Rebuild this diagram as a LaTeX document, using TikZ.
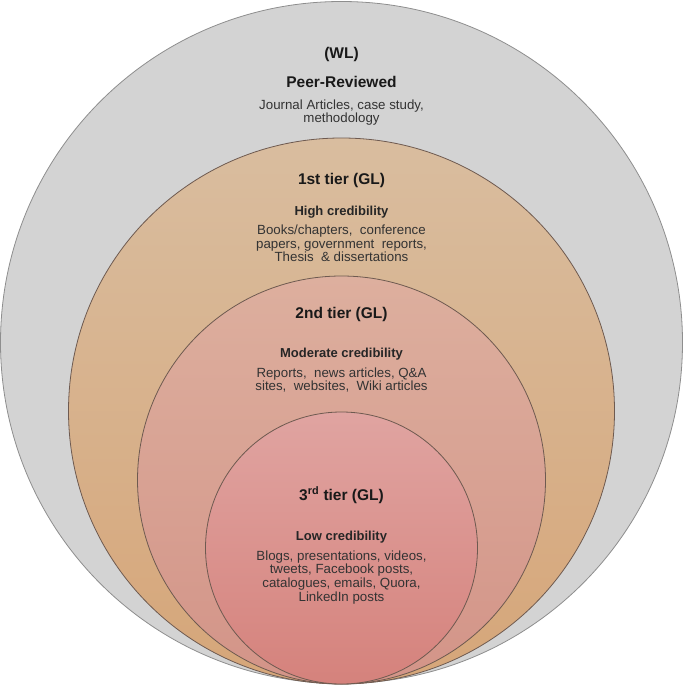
\documentclass[tikz,border=0pt]{standalone}
\usepackage{fontspec}
\setmainfont{Liberation Sans}
\definecolor{greyfill}{HTML}{D3D3D3}
\definecolor{greyline}{HTML}{8E8E8E}
\definecolor{tanTop}{HTML}{D9BD9F}
\definecolor{tanBot}{HTML}{D6A679}
\definecolor{pinkTop}{HTML}{DDAF9E}
\definecolor{pinkBot}{HTML}{D39488}
\definecolor{roseTop}{HTML}{E0A4A1}
\definecolor{roseBot}{HTML}{D5827C}
\definecolor{ringline}{HTML}{6E5A50}
\definecolor{bodytext}{HTML}{333333}
\tikzset{
  ring/.style={line width=0.8pt, draw=ringline},
  headtxt/.style={anchor=base, inner sep=0pt, font=\fontsize{15.5}{17}\selectfont\bfseries, text=black!90},
  subtxt/.style={anchor=base, inner sep=0pt, font=\fontsize{13}{14}\selectfont\bfseries, text=black!85},
  bodytxt/.style={anchor=base, inner sep=0pt, font=\fontsize{13.3}{14}\selectfont, text=bodytext}
}
\begin{document}
\begin{tikzpicture}[x=1pt,y=-1pt]
\useasboundingbox (0,0) rectangle (683,685);
% circles
\draw[line width=0.8pt, draw=greyline, fill=greyfill] (341.5,342.5) circle (341);
\draw[ring, top color=tanTop, bottom color=tanBot] (341.5,411) circle (273);
\draw[ring, top color=pinkTop, bottom color=pinkBot] (341.5,480) circle (204);
\draw[ring, top color=roseTop, bottom color=roseBot] (341.5,548) circle (136);
% WL
\node[headtxt] (wl) at (341.5,59) {(WL)};
\node[headtxt] (peer) at (341.5,87) {Peer-Reviewed};
\node[bodytxt] (wl1) at (341.5,109.3) {Journal Articles, case study,};
\node[bodytxt] (wl2) at (341.5,122.7) {methodology};
% tier 1
\node[headtxt] (t1) at (341.5,184.5) {1st tier (GL)};
\node[subtxt] (t1s) at (341.5,215) {High credibility};
\node[bodytxt] (t1a) at (341.5,234.5) {Books/chapters,\ \ conference};
\node[bodytxt] (t1b) at (341.5,248) {papers, government\ \ reports,};
\node[bodytxt] (t1c) at (341.5,261.5) {Thesis\ \ \& dissertations};
% tier 2
\node[headtxt] (t2) at (341.5,318) {2nd tier (GL)};
\node[subtxt] (t2s) at (341.5,357) {Moderate credibility};
\node[bodytxt] (t2a) at (341.5,377) {Reports,\ \ news articles, Q\&A};
\node[bodytxt] (t2b) at (341.5,390.5) {sites,\ \ websites,\ \ Wiki articles};
% tier 3
\node[headtxt] (t3) at (341.5,500) {3\textsuperscript{rd} tier (GL)};
\node[subtxt] (t3s) at (341.5,540.5) {Low credibility};
\node[bodytxt] (t3a) at (341.5,560) {Blogs, presentations, videos,};
\node[bodytxt] (t3b) at (341.5,573.7) {tweets, Facebook posts,};
\node[bodytxt] (t3c) at (341.5,587.4) {catalogues, emails, Quora,};
\node[bodytxt] (t3d) at (341.5,601) {LinkedIn posts};
\end{tikzpicture}
\end{document}
